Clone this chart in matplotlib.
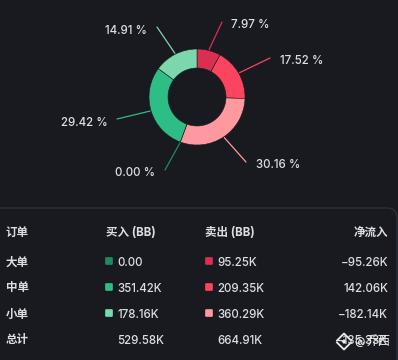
import numpy as np
import matplotlib
matplotlib.use("Agg")
import matplotlib.pyplot as plt
from matplotlib.patches import FancyBboxPatch, Polygon

plt.rcParams['font.family'] = ['Inter', 'Noto Sans CJK SC', 'DejaVu Sans']
plt.rcParams['font.weight'] = 'medium'

BG = '#181a20'
TXT = '#dcdee2'
FS = 8.3
DY = 1.5  # text baseline nudge in pixels

share_values = [7.97, 17.52, 30.16, 0.00, 29.42, 14.91]
share_labels = ['7.97 %', '17.52 %', '30.16 %', '0.00 %', '29.42 %', '14.91 %']
share_colors = ['#db2f52', '#fb4460', '#ff99a0', '#1f8a62', '#2ebd85', '#7bd8ae']

row_names = ['大单', '中单', '小单', '总计']
buy_values = ['0.00', '351.42K', '178.16K', '529.58K']
sell_values = ['95.25K', '209.35K', '360.29K', '664.91K']
net_values = ['−95.26K', '142.06K', '−182.14K', '−135.33K']
headers = ['订单', '买入 (BB)', '卖出 (BB)', '净流入']

W, H = 398, 360
fig = plt.figure(figsize=(W / 100, H / 100), dpi=100, facecolor=BG)
ax = fig.add_axes([0, 0, 1, 1])


def Y(y):
    return H - y


# donut
cx, cy, R, r = 197, 97, 48, 29
ax.pie(share_values, colors=share_colors, startangle=90, counterclock=False,
       radius=R, center=(cx, Y(cy)), frame=True,
       wedgeprops=dict(width=R - r, linewidth=0.4, edgecolor=BG))
ax.set_xlim(0, W)
ax.set_ylim(0, H)
ax.set_aspect('auto')
ax.axis('off')

# leader lines and label anchors
leader_ends = [(222, 22), (270, 58), (246, 162), (165, 170), (117, 119), (157, 27)]
label_pos = [(231, 24, 'left'), (280, 61, 'left'), (256, 165, 'left'),
             (155, 173, 'right'), (108, 122, 'right'), (147, 30, 'right')]
cum = np.cumsum([0] + share_values[:-1]) + np.array(share_values) / 2
tot = sum(share_values)
for i, c in enumerate(cum):
    a = 2 * np.pi * c / tot
    sx, sy = cx + (R + 1) * np.sin(a), cy - (R + 1) * np.cos(a)
    ex, ey = leader_ends[i]
    ax.plot([sx, ex], [Y(sy), Y(ey)], color=share_colors[i], lw=0.9, solid_capstyle='round')
    lx, ly, ha = label_pos[i]
    ax.text(lx, Y(ly + DY - 1), share_labels[i], color=TXT, fontsize=FS, ha=ha, va='center')

# panel outline
ax.add_patch(FancyBboxPatch((-20, -40), W + 20 - 1, H + 40 - 208,
                            boxstyle='round,pad=0,rounding_size=10',
                            fc=BG, ec='#2b3039', lw=1))

# table
rows_y = [261, 287, 313, 339]
for x, t in zip([6, 106, 205], headers[:3]):
    ax.text(x, Y(231 + DY), t, color=TXT, fontsize=FS, ha='left', va='center', fontweight='bold')
ax.text(388, Y(231 + DY), headers[3], color=TXT, fontsize=FS, ha='right', va='center', fontweight='bold')

for i, y in enumerate(rows_y):
    ty = Y(y + DY)
    ax.text(6, ty, row_names[i], color=TXT, fontsize=FS, ha='left', va='center', fontweight='bold')
    ax.text(117, ty, buy_values[i], color=TXT, fontsize=FS, ha='left', va='center')
    ax.text(217, ty, sell_values[i], color=TXT, fontsize=FS, ha='left', va='center')
    ax.text(388, ty, net_values[i], color=TXT, fontsize=FS, ha='right', va='center')
    if i < 3:
        for x0, col in ((105.5, share_colors[3 + i]), (205.5, share_colors[i])):
            ax.add_patch(FancyBboxPatch((x0, Y(y) - 3.5), 7, 7,
                                        boxstyle='round,pad=0,rounding_size=1',
                                        fc=col, ec=col, lw=0.5))

# watermark
WM = '#ececec'
ax.text(354, Y(342), '@', color=WM, fontsize=7.5, ha='left', va='center')
ax.text(366, Y(342), '乔西', color=WM, fontsize=9, ha='left', va='center')
mx, my = 344, 341.5
s = 7
chevrons = [[(-s, -1), (0, -s - 1), (s, -1)], [(-s, 1), (0, s + 1), (s, 1)]]
for pts in chevrons:
    ax.plot([mx + p[0] for p in pts], [Y(my + p[1]) for p in pts], color=WM, lw=1.3)
ds = 2.5
ax.add_patch(Polygon([(mx, Y(my - ds)), (mx + ds, Y(my)), (mx, Y(my + ds)), (mx - ds, Y(my))],
                     closed=True, fc=WM, ec='none'))

fig.savefig('out.png', dpi=100, facecolor=BG)
